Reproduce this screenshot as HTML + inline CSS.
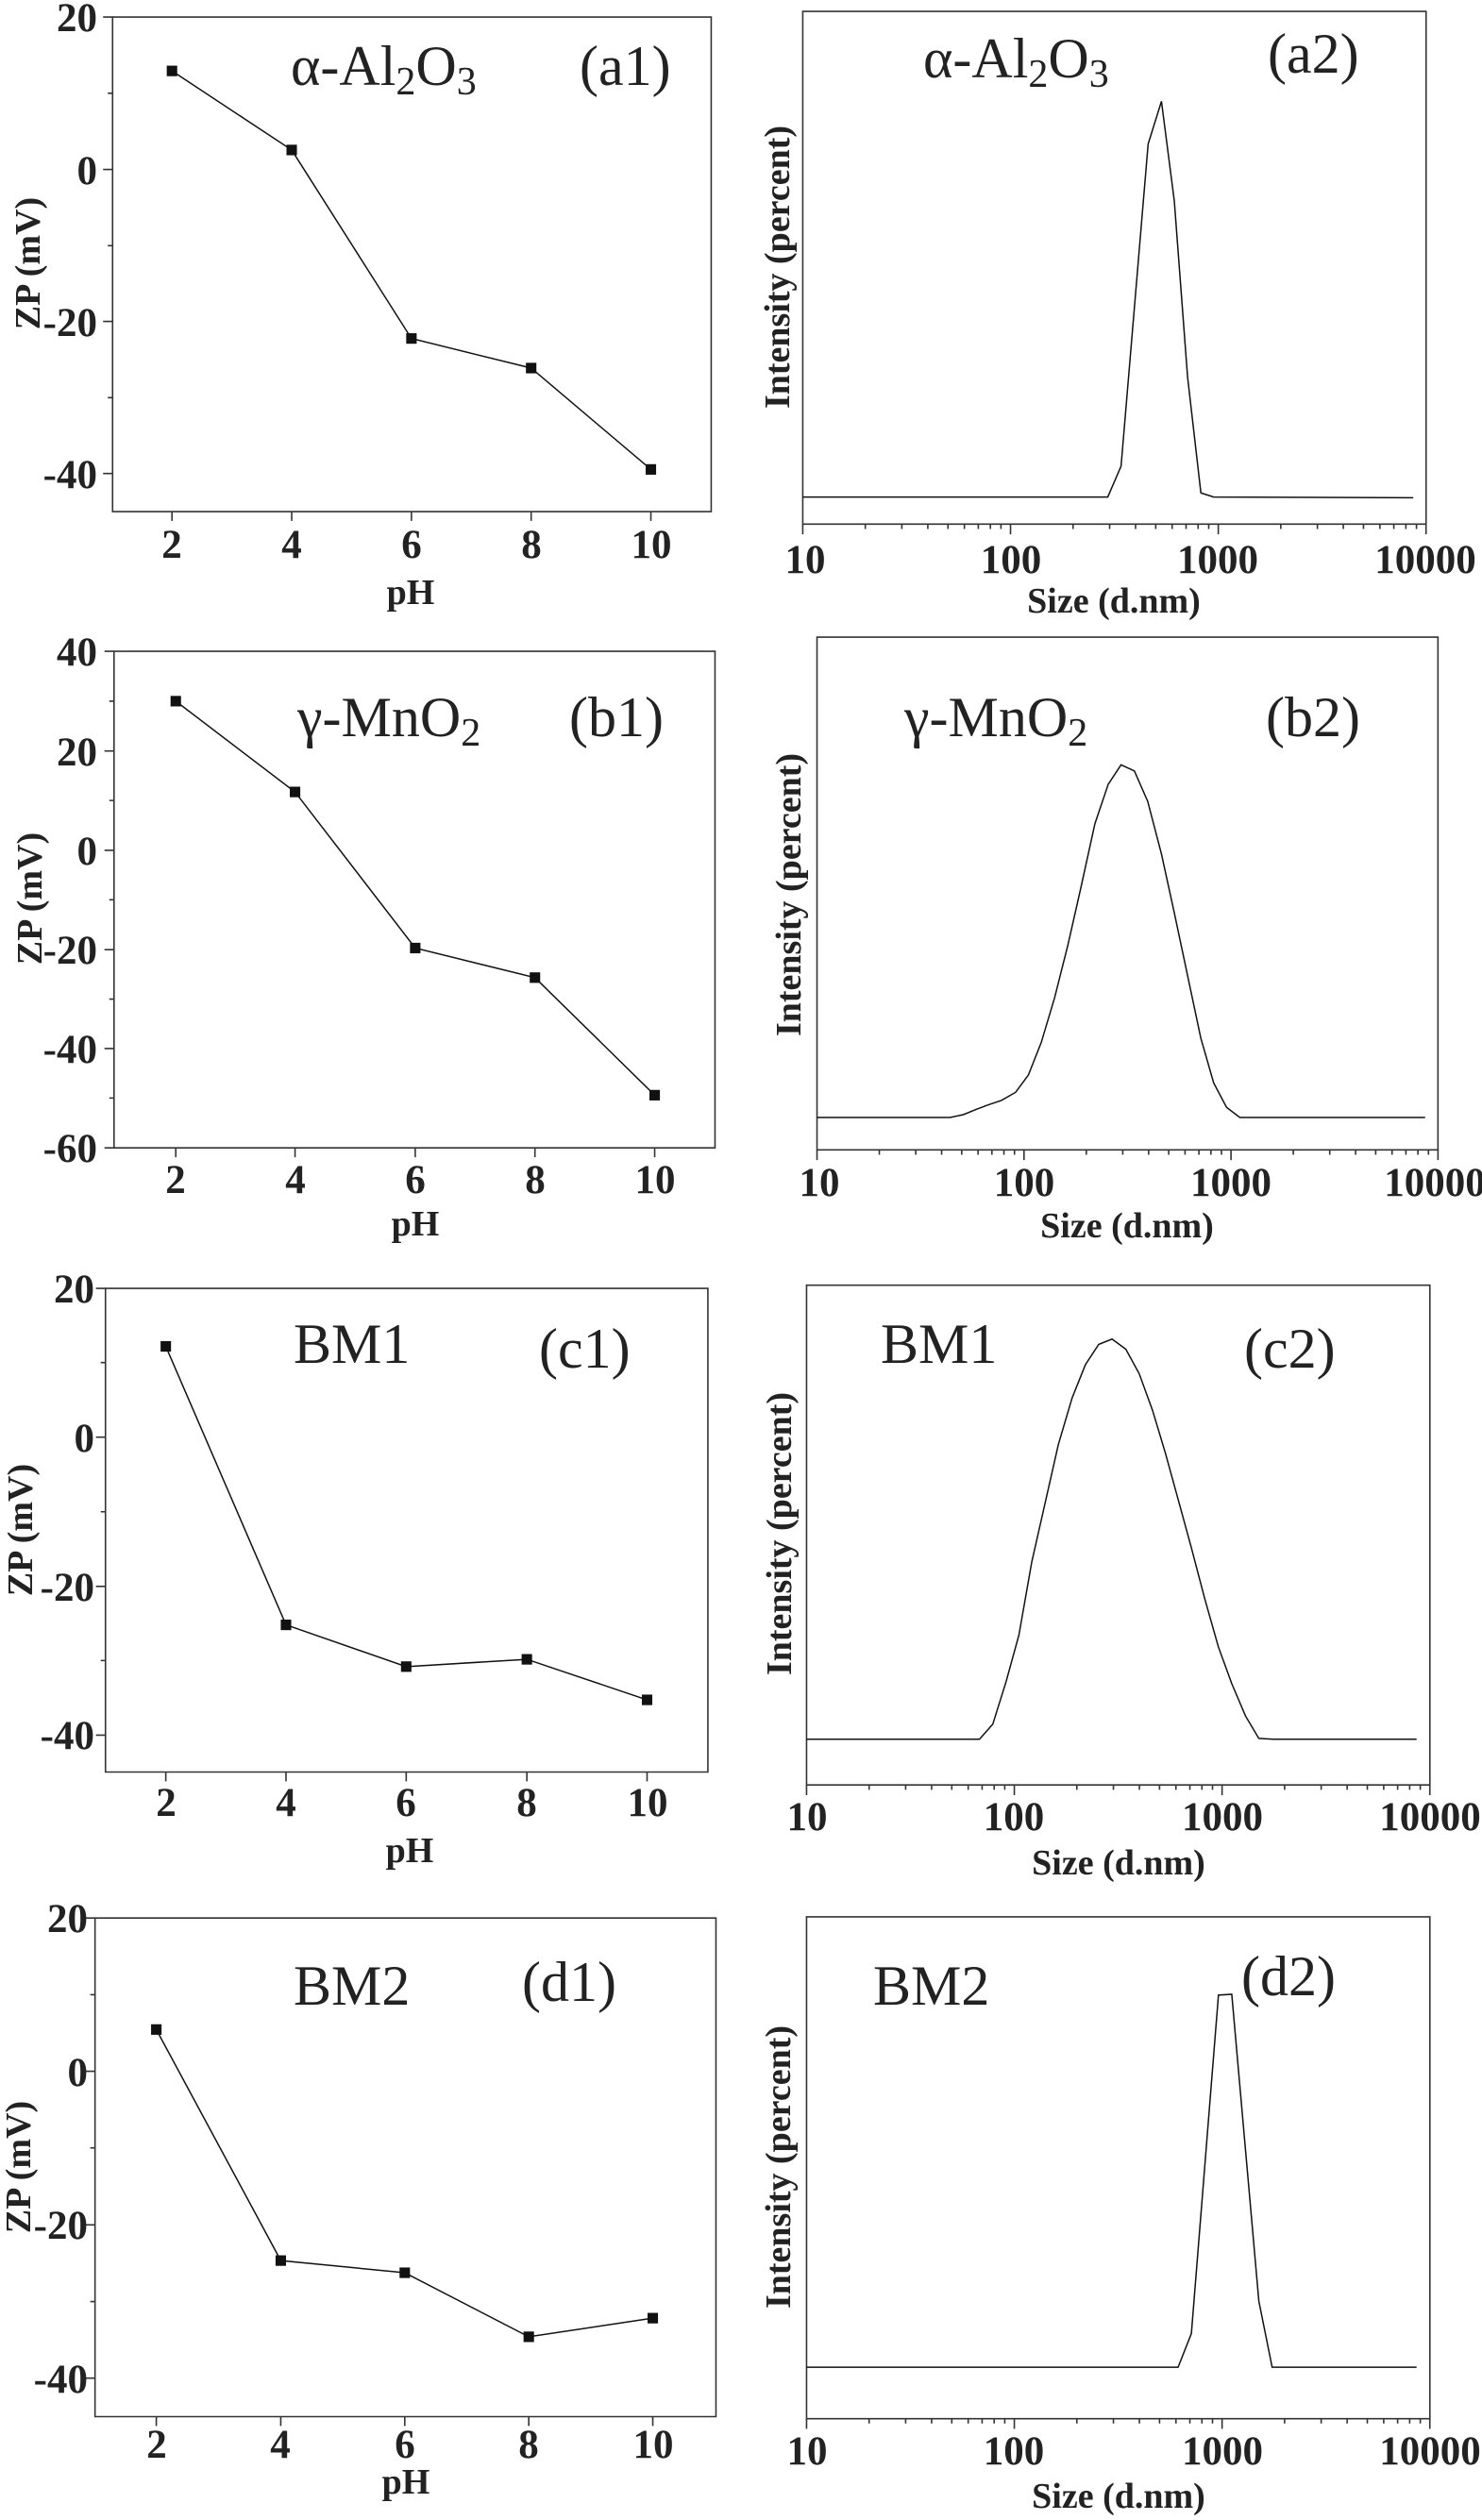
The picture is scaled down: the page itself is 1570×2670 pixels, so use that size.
<!DOCTYPE html>
<html><head><meta charset="utf-8"><style>
html,body{margin:0;padding:0;background:#fff;}
svg{display:block;}
.f{fill:none;stroke:#333;stroke-width:1.6;vector-effect:non-scaling-stroke;}
.c{fill:none;stroke:#111;stroke-width:1.5;vector-effect:non-scaling-stroke;}
.t{font-family:"Liberation Serif",serif;font-weight:bold;font-size:43px;fill:#222;}
.tl{font-family:"Liberation Serif",serif;font-weight:bold;font-size:38px;fill:#222;}
.an{font-family:"Liberation Serif",serif;font-size:60px;fill:#222;}
</style></head><body>
<svg width="1570" height="2670" viewBox="0 0 1570 2670" xmlns="http://www.w3.org/2000/svg">
<defs>
<g id="logt">
<path class="f" d="M0 0v25M1 0v25M2 0v25M3 0v25
M0.301 0v12M0.477 0v12M0.602 0v12M0.699 0v12M0.778 0v12M0.845 0v12M0.903 0v12M0.954 0v12
M1.301 0v12M1.477 0v12M1.602 0v12M1.699 0v12M1.778 0v12M1.845 0v12M1.903 0v12M1.954 0v12
M2.301 0v12M2.477 0v12M2.602 0v12M2.699 0v12M2.778 0v12M2.845 0v12M2.903 0v12M2.954 0v12"/>
</g>
</defs>

<!-- a1 -->
<g transform="translate(0,0) scale(0.5033,0.4295)">
<rect class="f" x="237" y="42" width="1260" height="1220"/>
<path class="f" d="M237 42h-20M237 418h-20M237 793h-20M237 1168h-20M237 230h-10M237 606h-10M237 981h-10
M362 1262v23M614 1262v23M866 1262v23M1118 1262v23M1370 1262v23"/>
<polyline class="c" points="362,175 614,370 866,835 1118,908 1370,1158"/>
<g fill="#111"><rect x="351" y="162" width="22" height="26"/><rect x="603" y="357" width="22" height="26"/><rect x="855" y="822" width="22" height="26"/><rect x="1107" y="895" width="22" height="26"/><rect x="1359" y="1145" width="22" height="26"/></g>
</g>
<g class="t" text-anchor="end"><text x="103" y="33">20</text><text x="103" y="195">0</text><text x="103" y="356">-20</text><text x="103" y="517">-40</text></g>
<g class="t" text-anchor="middle"><text x="182" y="591">2</text><text x="309" y="591">4</text><text x="436" y="591">6</text><text x="563" y="591">8</text><text x="690" y="591">10</text></g>
<text class="tl" x="435" y="640" text-anchor="middle">pH</text>
<text class="tl" text-anchor="middle" transform="translate(42,279) rotate(-90)">ZP (mV)</text>
<text class="an" x="308" y="90">α-Al<tspan font-size="42" dy="10">2</tspan><tspan dy="-10">O</tspan><tspan font-size="42" dy="10">3</tspan></text>
<text class="an" x="614" y="90">(a1)</text>

<!-- a2 -->
<g transform="translate(785,0) scale(0.5033,0.4295)">
<rect class="f" x="130" y="28" width="1312" height="1265"/>
<use href="#logt" transform="translate(130,1293) scale(437.3,1)"/>
<polyline class="c" points="130,1226 772,1226 800,1150 857,355 885,250 912,495 940,930 968,1216 995,1226 1415,1228"/>
</g>
<g class="t" text-anchor="middle"><text x="853" y="607">10</text><text x="1071" y="607">100</text><text x="1290" y="607">1000</text><text x="1510" y="607">10000</text></g>
<text class="tl" x="1180" y="649" text-anchor="middle">Size (d.nm)</text>
<text class="tl" text-anchor="middle" transform="translate(836,283) rotate(-90)">Intensity (percent)</text>
<text class="an" x="978" y="82">α-Al<tspan font-size="42" dy="10">2</tspan><tspan dy="-10">O</tspan><tspan font-size="42" dy="10">3</tspan></text>
<text class="an" x="1343" y="77">(a2)</text>

<!-- b1 -->
<g transform="translate(0,660) scale(0.5033,0.4295)">
<rect class="f" x="240" y="70" width="1265" height="1225"/>
<path class="f" d="M240 70h-20M240 316h-20M240 561h-20M240 806h-20M240 1050h-20M240 1295h-20
M240 193h-10M240 438h-10M240 683h-10M240 928h-10M240 1172h-10
M370 1295v23M621 1295v23M874 1295v23M1126 1295v23M1378 1295v23"/>
<polyline class="c" points="370,193 621,417 874,802 1126,875 1378,1165"/>
<g fill="#111"><rect x="359" y="180" width="22" height="26"/><rect x="610" y="404" width="22" height="26"/><rect x="863" y="789" width="22" height="26"/><rect x="1115" y="862" width="22" height="26"/><rect x="1367" y="1152" width="22" height="26"/></g>
</g>
<g class="t" text-anchor="end"><text x="103" y="705">40</text><text x="103" y="811">20</text><text x="103" y="916">0</text><text x="103" y="1021">-20</text><text x="103" y="1126">-40</text><text x="103" y="1231">-60</text></g>
<g class="t" text-anchor="middle"><text x="186" y="1264">2</text><text x="313" y="1264">4</text><text x="440" y="1264">6</text><text x="567" y="1264">8</text><text x="694" y="1264">10</text></g>
<text class="tl" x="440" y="1309" text-anchor="middle">pH</text>
<text class="tl" text-anchor="middle" transform="translate(44,952) rotate(-90)">ZP (mV)</text>
<text class="an" x="315" y="780">γ-MnO<tspan font-size="42" dy="10">2</tspan></text>
<text class="an" x="603" y="780">(b1)</text>

<!-- b2 -->
<g transform="translate(785,660) scale(0.5033,0.4295)">
<rect class="f" x="160" y="35" width="1307" height="1265"/>
<use href="#logt" transform="translate(160,1300) scale(435.7,1)"/>
<polyline class="c" points="160,1220 440,1220 468,1213 495,1200 520,1189 548,1178 578,1158 605,1115 632,1035 660,925 688,795 716,650 745,495 773,398 800,350 828,365 856,440 885,570 912,715 940,870 968,1025 995,1135 1022,1195 1050,1220 1440,1220"/>
</g>
<g class="t" text-anchor="middle"><text x="868" y="1267">10</text><text x="1085" y="1267">100</text><text x="1304" y="1267">1000</text><text x="1520" y="1267">10000</text></g>
<text class="tl" x="1194" y="1311" text-anchor="middle">Size (d.nm)</text>
<text class="tl" text-anchor="middle" transform="translate(848,948) rotate(-90)">Intensity (percent)</text>
<text class="an" x="958" y="780">γ-MnO<tspan font-size="42" dy="10">2</tspan></text>
<text class="an" x="1341" y="780">(b2)</text>

<!-- c1 -->
<g transform="translate(0,1320) scale(0.5033,0.4295)">
<rect class="f" x="222" y="105" width="1268" height="1193"/>
<path class="f" d="M222 105h-20M222 472h-20M222 840h-20M222 1207h-20M222 288h-10M222 656h-10M222 1023h-10
M349 1298v23M602 1298v23M855 1298v23M1109 1298v23M1362 1298v23"/>
<polyline class="c" points="349,248 602,935 855,1038 1109,1020 1362,1120"/>
<g fill="#111"><rect x="338" y="235" width="22" height="26"/><rect x="591" y="922" width="22" height="26"/><rect x="844" y="1025" width="22" height="26"/><rect x="1098" y="1007" width="22" height="26"/><rect x="1351" y="1107" width="22" height="26"/></g>
</g>
<g class="t" text-anchor="end"><text x="100" y="1380">20</text><text x="100" y="1538">0</text><text x="100" y="1696">-20</text><text x="100" y="1853">-40</text></g>
<g class="t" text-anchor="middle"><text x="176" y="1924">2</text><text x="303" y="1924">4</text><text x="430" y="1924">6</text><text x="558" y="1924">8</text><text x="686" y="1924">10</text></g>
<text class="tl" x="434" y="1973" text-anchor="middle">pH</text>
<text class="tl" text-anchor="middle" transform="translate(34,1621) rotate(-90)">ZP (mV)</text>
<text class="an" x="311" y="1444">BM1</text>
<text class="an" x="571" y="1449">(c1)</text>

<!-- c2 -->
<g transform="translate(785,1320) scale(0.5033,0.4295)">
<rect class="f" x="138" y="97" width="1312" height="1233"/>
<use href="#logt" transform="translate(138,1330) scale(437.3,1)"/>
<polyline class="c" points="138,1217 502,1217 530,1180 558,1075 585,960 612,780 640,635 668,490 697,375 725,293 753,243 781,230 810,255 838,315 866,405 893,510 920,625 948,745 976,870 1005,990 1033,1080 1062,1160 1090,1215 1120,1217 1422,1217"/>
</g>
<g class="t" text-anchor="middle"><text x="855" y="1939">10</text><text x="1074" y="1939">100</text><text x="1295" y="1939">1000</text><text x="1515" y="1939">10000</text></g>
<text class="tl" x="1185" y="1986" text-anchor="middle">Size (d.nm)</text>
<text class="tl" text-anchor="middle" transform="translate(838,1625) rotate(-90)">Intensity (percent)</text>
<text class="an" x="933" y="1444">BM1</text>
<text class="an" x="1318" y="1449">(c2)</text>

<!-- d1 -->
<g transform="translate(0,2000) scale(0.5033,0.4295)">
<rect class="f" x="200" y="75" width="1307" height="1230"/>
<path class="f" d="M200 75h-20M200 453h-20M200 832h-20M200 1210h-20M200 264h-10M200 642h-10M200 1021h-10
M329 1305v23M591 1305v23M852 1305v23M1113 1305v23M1374 1305v23"/>
<polyline class="c" points="329,350 591,920 852,950 1113,1108 1374,1062"/>
<g fill="#111"><rect x="318" y="337" width="22" height="26"/><rect x="580" y="907" width="22" height="26"/><rect x="841" y="937" width="22" height="26"/><rect x="1102" y="1095" width="22" height="26"/><rect x="1363" y="1049" width="22" height="26"/></g>
</g>
<g class="t" text-anchor="end"><text x="93" y="2047">20</text><text x="93" y="2210">0</text><text x="93" y="2372">-20</text><text x="93" y="2535">-40</text></g>
<g class="t" text-anchor="middle"><text x="166" y="2604">2</text><text x="297" y="2604">4</text><text x="429" y="2604">6</text><text x="560" y="2604">8</text><text x="692" y="2604">10</text></g>
<text class="tl" x="430" y="2642" text-anchor="middle">pH</text>
<text class="tl" text-anchor="middle" transform="translate(32,2296) rotate(-90)">ZP (mV)</text>
<text class="an" x="311" y="2124">BM2</text>
<text class="an" x="553" y="2120">(d1)</text>

<!-- d2 -->
<g transform="translate(785,2000) scale(0.5033,0.4295)">
<rect class="f" x="138" y="72" width="1312" height="1238"/>
<use href="#logt" transform="translate(138,1310) scale(437.3,1)"/>
<polyline class="c" points="138,1183 920,1183 948,1100 1005,265 1033,263 1090,1020 1118,1183 1422,1183"/>
</g>
<g class="t" text-anchor="middle"><text x="855" y="2611">10</text><text x="1074" y="2611">100</text><text x="1295" y="2611">1000</text><text x="1515" y="2611">10000</text></g>
<text class="tl" x="1185" y="2657" text-anchor="middle">Size (d.nm)</text>
<text class="tl" text-anchor="middle" transform="translate(837,2296) rotate(-90)">Intensity (percent)</text>
<text class="an" x="925" y="2124">BM2</text>
<text class="an" x="1315" y="2114">(d2)</text>
</svg>
</body></html>
